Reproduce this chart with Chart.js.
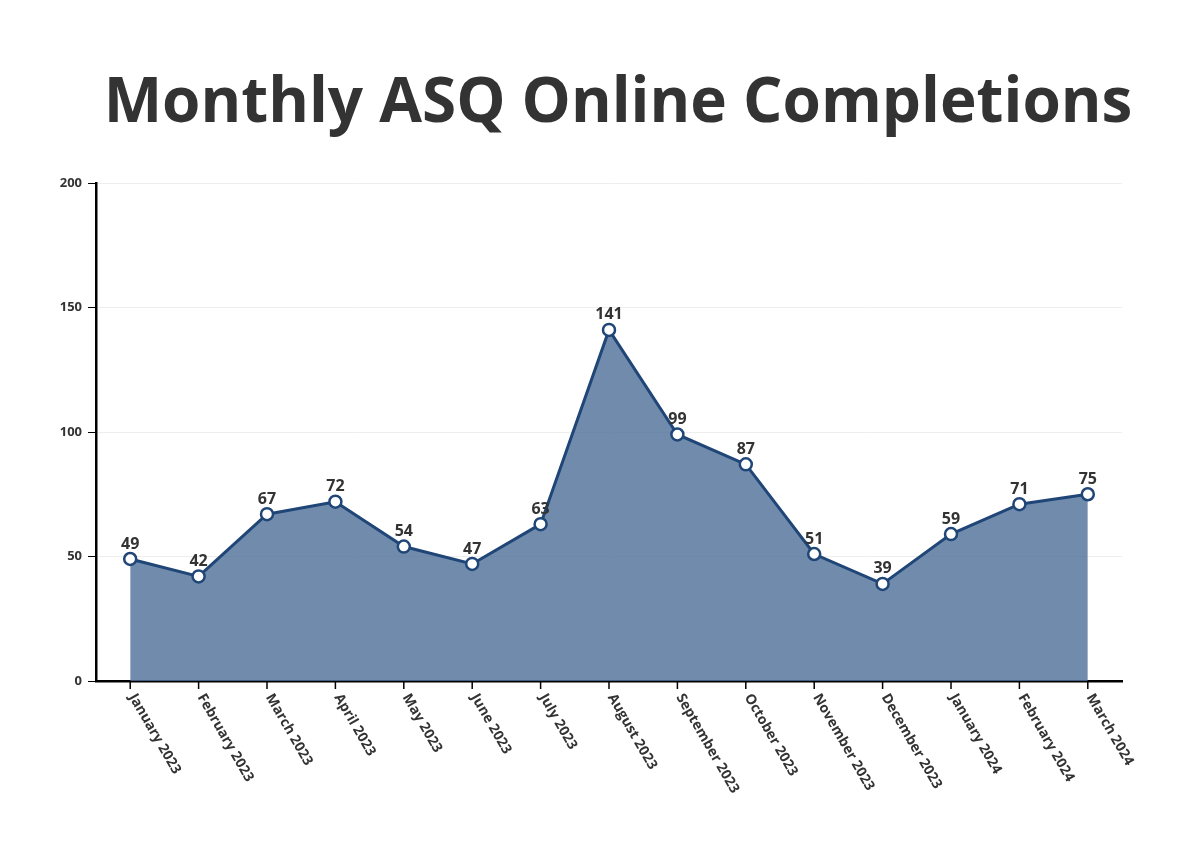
<!DOCTYPE html>
<html>
<head>
<meta charset="utf-8">
<script src="https://cdn.jsdelivr.net/npm/chart.js@4"></script>
<style>
  html, body { margin: 0; padding: 0; background: #fff; }
  #wrap { width: 1200px; height: 857px; }
</style>
</head>
<body>
<div id="wrap"><canvas id="chart"></canvas></div>
<script>
const months = ['January 2023', 'February 2023', 'March 2023', 'April 2023', 'May 2023', 'June 2023',
  'July 2023', 'August 2023', 'September 2023', 'October 2023', 'November 2023', 'December 2023',
  'January 2024', 'February 2024', 'March 2024'];
const completions = [49, 42, 67, 72, 54, 47, 63, 141, 99, 87, 51, 39, 59, 71, 75];
const yTicks = [0, 50, 100, 150, 200];
const chartTitle = 'Monthly ASQ Online Completions';

const FONT = "'Open Sans', 'Noto Sans', sans-serif";
const TEXT = '#333333';

// title, point value labels and the slanted month labels
const decorations = {
  id: 'decorations',
  afterDraw(chart) {
    const c = chart.ctx;
    const x = chart.scales.x;
    const area = chart.chartArea;
    c.save();
    c.fillStyle = TEXT;
    c.font = `bold 62px ${FONT}`;
    c.textAlign = 'center';
    c.textBaseline = 'middle';
    c.fillText(chartTitle, 618, 104);

    // value labels
    c.font = `bold 16px ${FONT}`;
    c.textBaseline = 'bottom';
    const meta = chart.getDatasetMeta(0);
    meta.data.forEach((pt, i) => {
      c.fillText(completions[i], pt.x, pt.y - 7);
    });

    // tick marks + rotated labels
    c.strokeStyle = '#000';
    c.lineWidth = 1.5;
    c.font = `bold 14px ${FONT}`;
    c.textAlign = 'left';
    c.textBaseline = 'middle';
    months.forEach((m, i) => {
      const px = x.getPixelForValue(i);
      c.beginPath();
      c.moveTo(px, area.bottom);
      c.lineTo(px, area.bottom + 8);
      c.stroke();
      c.save();
      c.translate(px + 2, area.bottom + 14);
      c.rotate(60 * Math.PI / 180);
      c.fillText(m, 0, 0);
      c.restore();
    });
    c.restore();
  }
};

new Chart(document.getElementById('chart'), {
  type: 'line',
  data: {
    labels: months,
    datasets: [{
      data: completions,
      fill: 'origin',
      backgroundColor: 'rgba(80, 113, 154, 0.82)',
      borderColor: '#1f4677',
      borderWidth: 3,
      tension: 0,
      pointRadius: 6,
      pointBorderWidth: 2.5,
      pointBackgroundColor: '#ffffff',
      pointBorderColor: '#1f4677'
    }]
  },
  options: {
    responsive: true,
    maintainAspectRatio: false,
    animation: false,
    layout: { padding: { top: 183, right: 78, left: 0, bottom: 0 } },
    plugins: { legend: { display: false }, tooltip: { enabled: false } },
    scales: {
      x: {
        offset: true,
        ticks: { display: false },
        grid: { display: false },
        border: { display: true, color: '#000', width: 2.5 },
        afterFit(scale) { scale.height = 176; }
      },
      y: {
        min: 0,
        max: 200,
        afterBuildTicks(scale) { scale.ticks = yTicks.map(v => ({ value: v })); },
        ticks: { color: TEXT, font: { family: FONT, size: 13, weight: 'bold' }, padding: 6 },
        grid: { color: '#eeeeee', tickColor: '#000', tickLength: 8, drawTicks: true },
        border: { display: true, color: '#000', width: 2.5 },
        afterFit(scale) { scale.width = 96; }
      }
    }
  },
  plugins: [decorations]
});
</script>
</body>
</html>
